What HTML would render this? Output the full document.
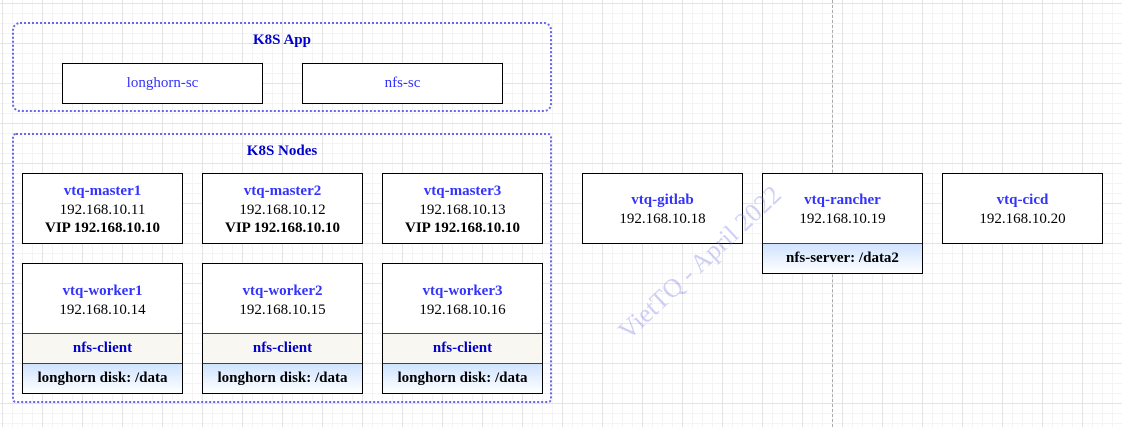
<!DOCTYPE html>
<html><head><meta charset="utf-8"><style>
*{box-sizing:border-box}
body{margin:0;width:1122px;height:427px;overflow:hidden;position:relative;font-family:"Liberation Serif",serif;
background-color:#fff;
background-image:linear-gradient(#e4e4e4 1px,transparent 1px),linear-gradient(90deg,#e4e4e4 1px,transparent 1px),linear-gradient(#f4f4f4 1px,transparent 1px),linear-gradient(90deg,#f4f4f4 1px,transparent 1px);
background-size:40px 40px,40px 40px,10px 10px,10px 10px;
background-position:0 3px,2px 0,0 3px,2px 0;}
.a{position:absolute}
.box{border:1px solid #000;background:#fff;text-align:center;font-size:15px;color:#000;line-height:18.5px}
.n{color:#3333ff;font-weight:bold}
.b{font-weight:bold}
.cont{border:2px dotted #6666ee;border-radius:8px}
.t{position:absolute;width:100%;text-align:center;font-weight:bold;color:#0000cc;font-size:15px}
.nfs{background:#f9f7f1;border-top:1px solid #444;color:#0000cc;font-weight:bold;position:absolute;left:0;right:0;height:30px;line-height:29px}
.lh{background:linear-gradient(#cfe3ff,#fff);border-top:1px solid #444;font-weight:bold;position:absolute;left:0;right:0;height:30px;line-height:29px}
</style></head><body>
<div class="a" style="left:832px;top:0;width:0;height:427px;border-left:1px dashed #aaa"></div>
<div class="a cont" style="left:12px;top:22px;width:540px;height:90px"><div class="t" style="top:8px">K8S App</div></div>
<div class="a box" style="left:62px;top:63px;width:201px;height:41px;line-height:39px;color:#3333ff">longhorn-sc</div>
<div class="a box" style="left:302px;top:63px;width:201px;height:41px;line-height:39px;color:#3333ff">nfs-sc</div>
<div class="a cont" style="left:12px;top:133px;width:540px;height:270px;border-radius:4px"><div class="t" style="top:8px">K8S Nodes</div></div>

<div class="a box" style="left:22px;top:173px;width:161px;height:71px;padding-top:8px"><div class="n">vtq-master1</div>192.168.10.11<div class="b">VIP 192.168.10.10</div></div>
<div class="a box" style="left:202px;top:173px;width:161px;height:71px;padding-top:8px"><div class="n">vtq-master2</div>192.168.10.12<div class="b">VIP 192.168.10.10</div></div>
<div class="a box" style="left:382px;top:173px;width:161px;height:71px;padding-top:8px"><div class="n">vtq-master3</div>192.168.10.13<div class="b">VIP 192.168.10.10</div></div>

<div class="a box" style="left:22px;top:263px;width:161px;height:131px;padding-top:18px"><div class="n">vtq-worker1</div>192.168.10.14<div class="nfs" style="top:69px">nfs-client</div><div class="lh" style="top:99px">longhorn disk: /data</div></div>
<div class="a box" style="left:202px;top:263px;width:161px;height:131px;padding-top:18px"><div class="n">vtq-worker2</div>192.168.10.15<div class="nfs" style="top:69px">nfs-client</div><div class="lh" style="top:99px">longhorn disk: /data</div></div>
<div class="a box" style="left:382px;top:263px;width:161px;height:131px;padding-top:18px"><div class="n">vtq-worker3</div>192.168.10.16<div class="nfs" style="top:69px">nfs-client</div><div class="lh" style="top:99px">longhorn disk: /data</div></div>

<div class="a box" style="left:582px;top:173px;width:161px;height:71px;padding-top:17px"><div class="n">vtq-gitlab</div>192.168.10.18</div>
<div class="a box" style="left:762px;top:173px;width:161px;height:101px;padding-top:17px"><div class="n">vtq-rancher</div>192.168.10.19<div class="lh" style="top:69px">nfs-server: /data2</div></div>
<div class="a box" style="left:942px;top:173px;width:161px;height:71px;padding-top:17px"><div class="n">vtq-cicd</div>192.168.10.20</div>

<div class="a" style="left:575px;top:248px;width:250px;text-align:center;font-size:26px;color:rgba(120,120,230,0.35);transform:rotate(-43deg)">VietTQ - April 2022</div>
</body></html>
